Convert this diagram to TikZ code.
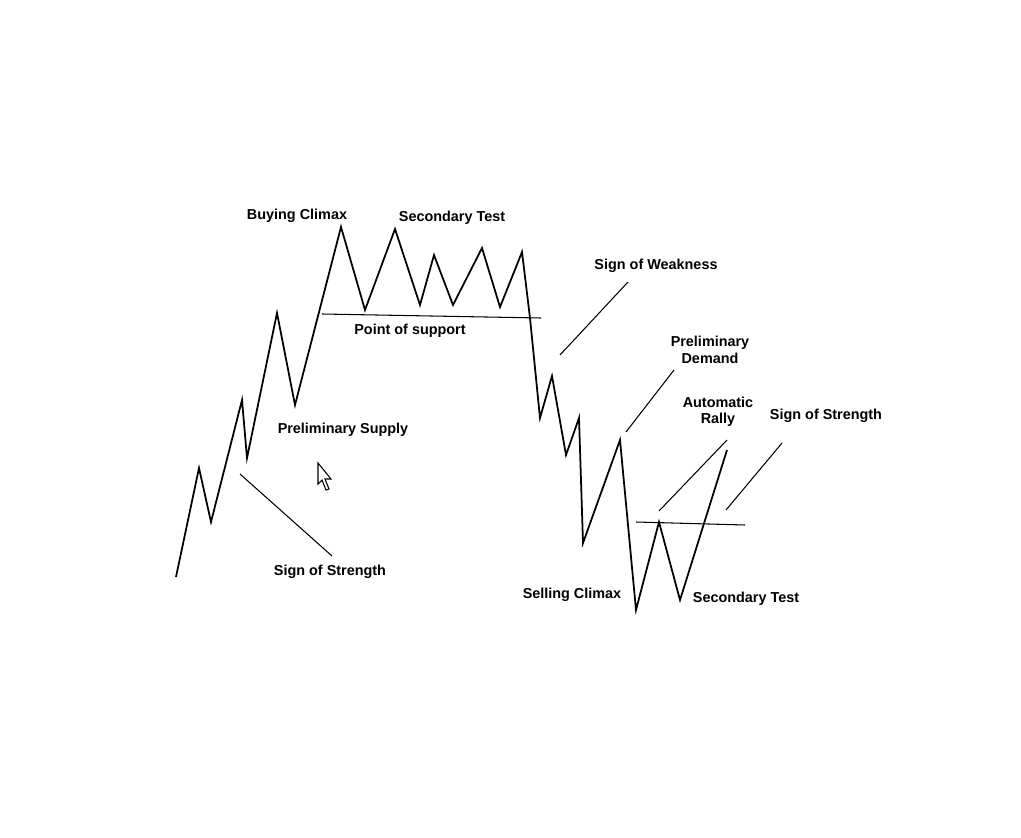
\documentclass[tikz,border=0pt]{standalone}
\usepackage{fontspec}
\setmainfont{Liberation Sans}
\begin{document}
\begin{tikzpicture}[x=0.02cm,y=-0.02cm,
  lbl/.style={font=\fontsize{8.2}{9.3}\selectfont\bfseries,inner sep=0pt,align=center},
  price/.style={line width=1pt,line join=miter},
  thin/.style={line width=0.6pt}]
\useasboundingbox (0,0) rectangle (1021,838);
\draw[price] (176,577) -- (199,468) -- (211,522) -- (242,400) -- (247,458) -- (277,313) -- (295,405)
 -- (341,227) -- (365,310) -- (395,229) -- (420,305) -- (434,255) -- (453,305) -- (482,248) -- (500,307)
 -- (522,252) -- (530,318) -- (540,418) -- (552,376) -- (566,455) -- (579,418) -- (583,543) -- (620,440)
 -- (636,610) -- (659,522) -- (680,600) -- (727,450);
\draw[thin] (322,314) -- (541,318);
\draw[thin] (636,522) -- (745,525);
\coordinate (a1) at (240,474); \coordinate (a2) at (332,556); \draw[thin] (a1) -- (a2);
\coordinate (b1) at (560,355); \coordinate (b2) at (628,282); \draw[thin] (b1) -- (b2);
\coordinate (c1) at (626,432); \coordinate (c2) at (674,370); \draw[thin] (c1) -- (c2);
\coordinate (d1) at (659,511); \coordinate (d2) at (727,440); \draw[thin] (d1) -- (d2);
\coordinate (e1) at (726,510); \coordinate (e2) at (782,443); \draw[thin] (e1) -- (e2);
\node[lbl] (t1) at (297,216) {Buying Climax};
\node[lbl] (t2) at (452,218) {Secondary Test};
\node[lbl] (t3) at (656,266) {Sign of Weakness};
\node[lbl] (t4) at (410,331) {Point of support};
\node[lbl] (t5) at (710,350) {Preliminary\\Demand};
\node[lbl] (t6) at (343,430) {Preliminary Supply};
\node[lbl] (t7) at (718,412) {Automatic\\Rally};
\node[lbl] (t8) at (826,416) {Sign of Strength};
\node[lbl] (t9) at (330,572) {Sign of Strength};
\node[lbl] (t10) at (572,595) {Selling Climax};
\node[lbl] (t11) at (746,599) {Secondary Test};
\draw[line width=0.6pt,fill=white] (318,463) -- (318,484) -- (322,480) -- (326,490) -- (329,489) -- (325,479) -- (331,479) -- cycle;
\end{tikzpicture}
\end{document}
